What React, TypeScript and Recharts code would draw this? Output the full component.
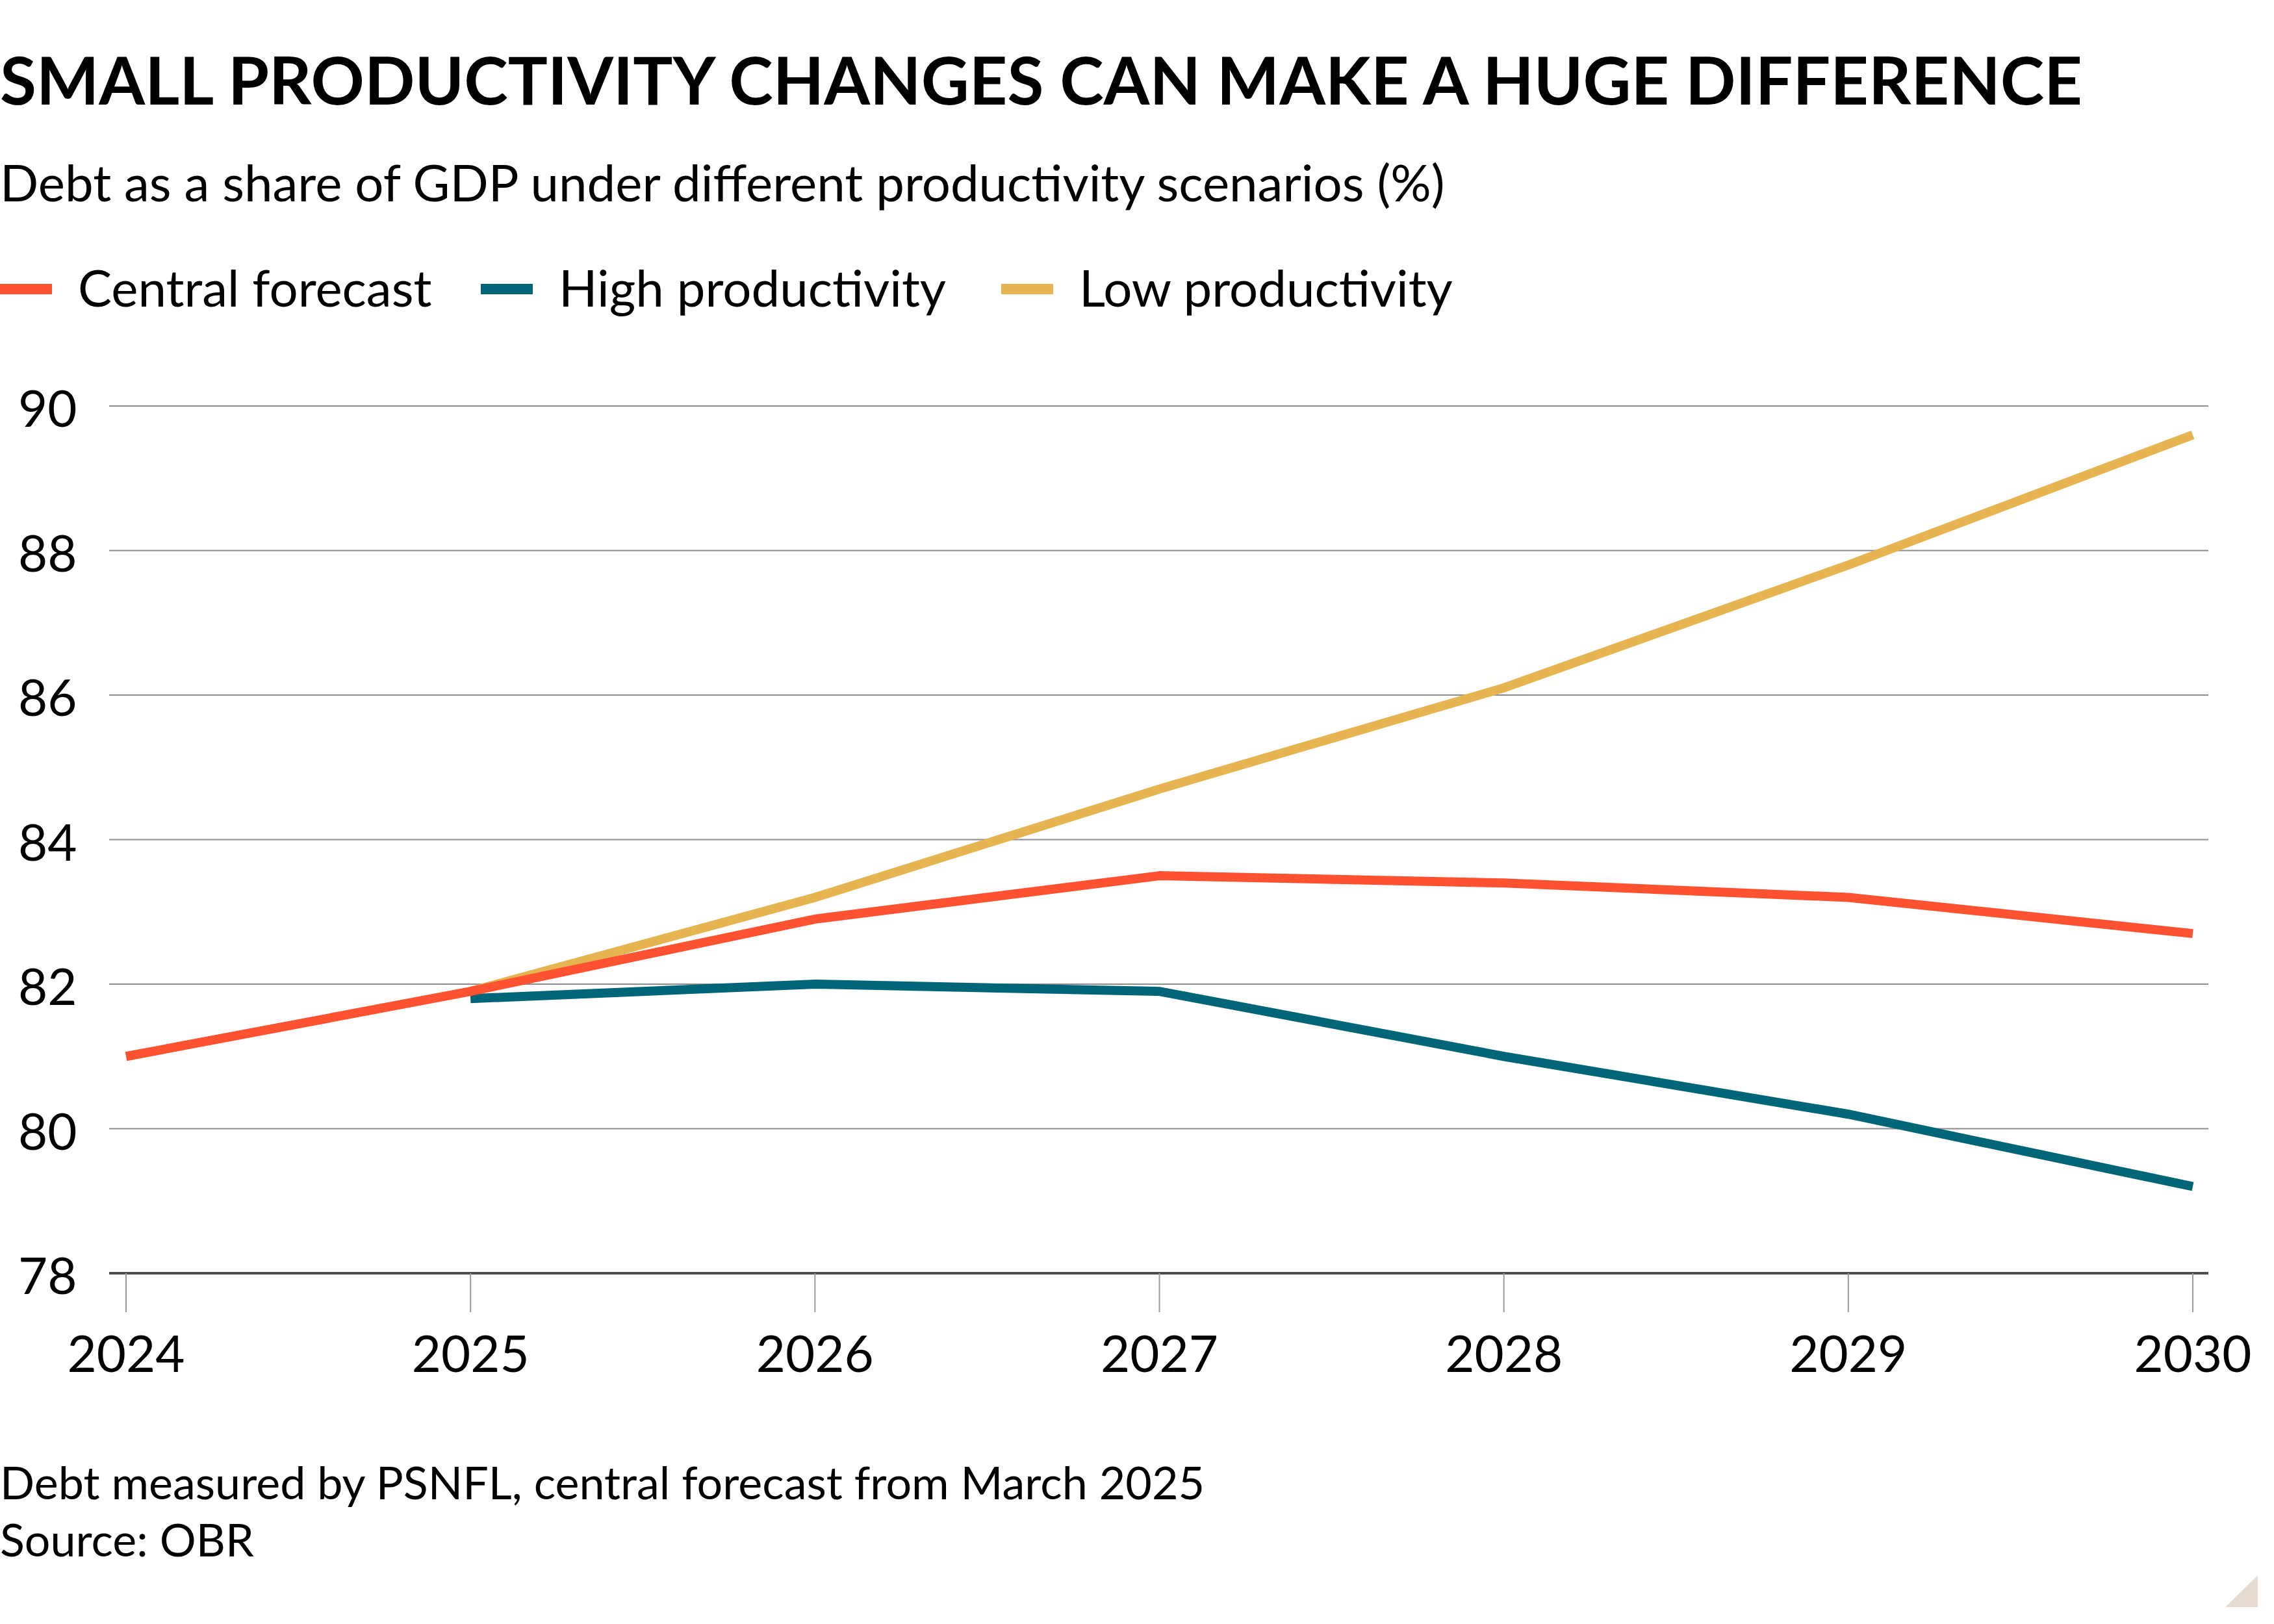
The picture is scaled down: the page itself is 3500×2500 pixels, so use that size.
import { CartesianGrid, Line, LineChart, XAxis, YAxis } from "recharts";

// chart values
const years = [2024, 2025, 2026, 2027, 2028, 2029, 2030];
const centralForecast = [81.0, 81.9, 82.9, 83.5, 83.4, 83.2, 82.7];
const highProductivity = [null, 81.8, 82.0, 81.9, 81.0, 80.2, 79.2];
const lowProductivity = [null, 81.9, 83.2, 84.7, 86.1, 87.8, 89.6];
const yTicks = [78, 80, 82, 84, 86, 88, 90];

const title = "SMALL PRODUCTIVITY CHANGES CAN MAKE A HUGE DIFFERENCE";
const subtitle = "Debt as a share of GDP under different productivity scenarios (%)";
const notes = ["Debt measured by PSNFL, central forecast from March 2025", "Source: OBR"];

const series = [
  { key: "central", name: "Central forecast", color: "#ff5230" },
  { key: "high", name: "High productivity", color: "#006576" },
  { key: "low", name: "Low productivity", color: "#e6b450" },
];

const data = years.map((year, i) => ({
  year,
  central: centralForecast[i],
  high: highProductivity[i],
  low: lowProductivity[i],
}));

// legend item x offsets (swatch start), matched to the reference layout
const legendX = [0, 740, 1541];

const FONT = "Lato, 'Noto Sans', sans-serif";

function YTick(props: any) {
  const { y, payload } = props;
  return (
    <text x={28} y={y} dy={32} fontSize={78} fill="#000" textAnchor="start">
      {payload.value}
    </text>
  );
}

export default function App() {
  // draw order: low, high, then central on top
  const drawOrder = ["low", "high", "central"];

  return (
    <div
      style={{
        position: "absolute",
        left: 0,
        top: 0,
        width: 3500,
        height: 2500,
        background: "#fff",
        fontFamily: FONT,
        overflow: "hidden",
      }}
    >
      <div style={{ position: "absolute", left: 0, top: 0 }}>
        <LineChart
          width={3500}
          height={2500}
          data={data}
          margin={{ top: 625, right: 101, bottom: 340, left: 0 }}
        >
          <CartesianGrid vertical={false} stroke="#8c8c8c" strokeWidth={2} />
          <XAxis
            dataKey="year"
            type="number"
            domain={[2024, 2030]}
            ticks={years}
            padding={{ left: 26, right: 24 }}
            height={200}
            tickSize={60}
            tickMargin={37}
            axisLine={{ stroke: "#4d4d4d", strokeWidth: 4 }}
            tickLine={{ stroke: "#9a9a9a", strokeWidth: 2 }}
            tick={{ fontSize: 78, fill: "#000" }}
            interval={0}
          />
          <YAxis
            domain={[78, 90]}
            ticks={yTicks}
            width={168}
            axisLine={false}
            tickLine={false}
            tick={<YTick />}
            interval={0}
          />
          {drawOrder.map((k) => {
            const s = series.find((x) => x.key === k)!;
            return (
              <Line
                key={s.key}
                dataKey={s.key}
                name={s.name}
                type="linear"
                stroke={s.color}
                strokeWidth={14}
                dot={false}
                activeDot={false}
                connectNulls={false}
                isAnimationActive={false}
              />
            );
          })}
        </LineChart>
      </div>

      <svg
        width={3500}
        height={2500}
        style={{ position: "absolute", left: 0, top: 0, pointerEvents: "none" }}
        fontFamily={FONT}
      >
        <text x={0} y={161} fontSize={102} fontWeight={700} fill="#000">
          {title}
        </text>
        <text x={0} y={310} fontSize={78} fill="#000">
          {subtitle}
        </text>
        {series.map((s, i) => (
          <g key={s.key}>
            <rect x={legendX[i]} y={437} width={80} height={16} fill={s.color} />
            <text x={legendX[i] + 120} y={472} fontSize={78} fill="#000">
              {s.name}
            </text>
          </g>
        ))}
        {notes.map((n, i) => (
          <text key={n} x={0} y={2308 + i * 88} fontSize={70} fill="#000">
            {n}
          </text>
        ))}
        <polygon points="3425,2474 3475,2425 3475,2474" fill="#e6dbd1" />
      </svg>
    </div>
  );
}
